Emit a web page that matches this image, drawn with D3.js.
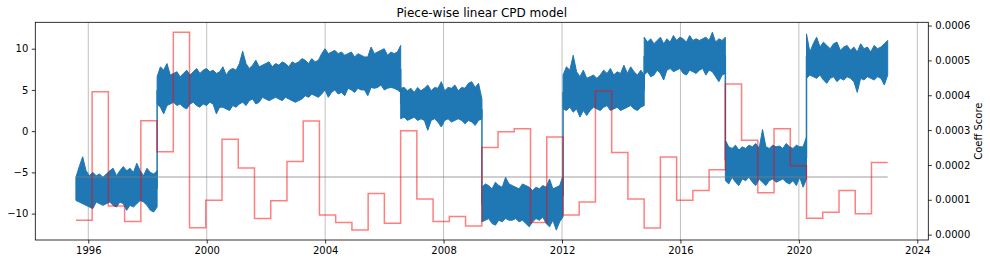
<!DOCTYPE html>
<html>
<head>
<meta charset="utf-8">
<script src="https://cdn.jsdelivr.net/npm/d3@7/dist/d3.min.js"></script>
<style>
body { margin: 0; background: #fff; }
text { font-family: "DejaVu Sans", sans-serif; }
</style>
</head>
<body>
<svg id="chart"></svg>
<script>
// series runs from startDate to endDate
var startDate = "1995-08-01";
var endDate = "2023-01-01";

// change points of the blue series (segment edges)
var changeDates = ["1995-08-01", "1998-04-29", "2006-07-21", "2009-04-18", "2012-01-14",
                   "2014-10-11", "2017-07-08", "2020-04-04", "2023-01-01"];

// upper / lower envelope of the noisy series, one array per segment
var blueUpper = [
    [-5.6,-4.3,-3.1,-4.8,-5.4,-5.0,-5.4,-5.2,-5.6,-5.2,-4.8,-4.5,-5.4,-4.8,-4.3,-4.8,-4.5,-5.0,-3.9,-4.8,-5.4,-4.5,-5.0,-5.2,-4.8],
    [6.6,7.8,7.4,8.2,6.8,7.0,7.2,6.6,7.0,7.4,6.8,7.2,7.6,7.0,7.4,7.6,7.2,7.4,7.0,7.2,
     7.8,6.8,7.4,7.6,7.4,8.2,9.7,8.2,7.6,8.0,8.6,7.8,8.0,8.2,8.4,7.8,8.2,8.0,8.4,8.2,7.8,8.4,8.2,8.4,8.8,8.6,8.2,8.8,8.4,8.6,9.4,10.0,9.4,9.6,9.8,9.4,9.6,9.2,9.4,9.6,9.0,9.4,9.2,9.0,
     9.0,10.2,9.4,9.6,9.8,10.0,9.2,9.6,9.4,9.6,10.4],
    [5.2,5.3,4.9,5.2,4.7,5.3,4.9,5.2,5.6,4.9,5.3,5.2,6.0,4.9,5.3,5.2,5.6,4.9,5.3,5.2,5.8,6.0,5.3,5.8,3.9],
    [-6.8,-6.4,-6.6,-7.0,-6.2,-6.6,-6.8,-5.6,-6.4,-6.6,-6.8,-7.0,-6.4,-6.6,-6.8,-7.2,-6.8,-7.0,-6.6,-6.8,-5.8,-7.0,-6.8,-6.6,-5.4],
    [6.8,7.8,7.4,9.2,7.2,6.6,7.4,6.4,6.6,6.8,6.4,6.8,7.4,7.0,7.6,6.8,7.2,7.0,8.0,7.0,7.8,7.2,6.8,7.4,6.8],
    [11.4,10.8,11.2,10.6,11.0,11.4,10.6,11.2,10.8,11.6,11.0,11.4,11.2,10.8,11.6,11.0,11.2,11.0,11.2,11.4,11.0,12.0,10.8,11.2,11.0,11.4],
    [-1.1,-1.9,-2.1,-1.7,-2.3,-1.9,-2.1,-1.7,-1.9,-1.5,-2.1,0.2,-1.9,-2.1,-1.7,-1.9,-1.8,-2.1,-1.5,-1.9,-2.1,-1.7,-1.9,-1.9,-0.7],
    [11.8,9.6,10.6,11.4,10.2,10.8,10.4,10.0,10.6,10.8,9.8,10.2,10.4,9.8,10.2,9.6,10.6,10.0,10.2,9.6,10.4,10.0,10.2,10.6,11.0]
];
var blueLower = [
    [-8.4,-8.6,-8.8,-9.0,-9.2,-9.4,-8.6,-8.8,-9.0,-8.8,-8.6,-9.0,-9.2,-8.6,-8.8,-9.6,-9.0,-9.2,-8.8,-8.4,-8.6,-9.0,-9.6,-9.8,-9.2],
    [3.3,2.9,2.1,3.1,3.3,3.5,3.1,3.3,2.9,2.7,3.3,3.5,3.1,2.9,3.3,3.1,3.5,3.3,2.1,2.9,
     2.9,2.7,2.5,3.1,2.9,3.3,3.5,3.1,3.7,3.9,3.3,3.5,4.1,3.9,3.7,3.9,4.1,3.9,3.7,4.1,3.9,3.7,3.5,3.7,3.9,4.3,4.1,4.5,4.3,4.1,4.5,5.0,4.1,4.7,5.0,4.5,4.7,4.3,5.2,5.0,4.7,5.2,5.0,5.0,
     4.3,5.3,5.2,5.3,5.6,5.0,5.2,5.3,5.2,5.0,4.7],
    [1.5,1.7,1.3,1.5,1.7,1.3,1.5,1.3,0.1,1.3,1.5,1.1,0.5,1.3,1.5,1.1,1.3,1.5,1.3,0.9,1.3,1.1,0.7,1.3,1.5],
    [-11.0,-10.8,-10.6,-11.2,-11.4,-10.8,-11.0,-10.6,-10.8,-10.8,-10.6,-11.0,-10.8,-11.2,-11.6,-11.0,-10.6,-10.8,-10.4,-11.2,-11.6,-10.8,-12.0,-11.0,-10.4],
    [2.7,2.5,2.9,2.3,2.7,1.7,2.5,1.9,2.5,2.9,2.7,2.5,2.9,3.1,2.5,2.7,2.9,2.5,2.7,2.9,3.1,2.7,2.5,2.9,3.1],
    [6.8,7.2,6.6,6.8,7.4,7.0,6.2,7.4,7.6,7.2,7.4,7.6,7.0,6.8,7.4,7.2,7.0,7.4,7.6,6.8,7.4,7.2,6.6,6.0,6.8,7.0],
    [-6.0,-6.4,-5.6,-6.2,-6.6,-5.8,-6.0,-5.6,-6.2,-6.6,-5.8,-6.2,-6.6,-6.0,-5.8,-6.2,-6.0,-5.8,-6.2,-6.4,-6.0,-6.6,-5.6,-6.8,-5.8],
    [6.4,6.8,6.6,6.4,6.8,6.2,5.8,6.4,6.6,6.0,6.4,6.2,6.6,6.4,6.0,4.7,6.4,6.2,6.6,6.4,6.2,6.6,6.4,5.6,6.8]
];

// coefficient score per window (right axis)
var coeffScore = [0.000041,0.000410,0.000082,0.000038,0.000327,0.000238,0.000581,0.000020,0.000099,0.000274,
                  0.000191,0.000046,0.000097,0.000210,0.000326,0.000056,0.000035,0.000013,0.000118,0.000033,
                  0.000298,0.000102,0.000038,0.000052,0.000025,0.000250,0.000295,0.000304,0.000035,0.000280,
                  0.000056,0.000094,0.000412,0.000236,0.000102,0.000019,0.000223,0.000099,0.000127,0.000186,
                  0.000432,0.000271,0.000120,0.000304,0.000198,0.000047,0.000064,0.000127,0.000060,0.000207];

var baselineValue = -5.56;

var xTickYears = [1996, 2000, 2004, 2008, 2012, 2016, 2020, 2024];
var leftTicks = [-10, -5, 0, 5, 10];
var rightTicks = [0, 0.0001, 0.0002, 0.0003, 0.0004, 0.0005, 0.0006];


function drawChart() {
    var width = 990;
    var height = 264;
    var margin = {top: 22.3, right: 61.7, bottom: 24, left: 35.3};
    var parse = d3.timeParse("%Y-%m-%d");

    var svg = d3.select("#chart")
        .attr("width", width)
        .attr("height", height);

    var t0 = parse(startDate), t1 = parse(endDate);
    var pad = (t1 - t0) * 0.05;
    var x = d3.scaleTime()
        .domain([new Date(+t0 - pad), new Date(+t1 + pad)])
        .range([margin.left, width - margin.right]);

    var allVals = d3.merge(blueUpper).concat(d3.merge(blueLower));
    var lo = d3.min(allVals), hi = d3.max(allVals);
    var yLeft = d3.scaleLinear()
        .domain([lo - (hi - lo) * 0.05, hi + (hi - lo) * 0.05])
        .range([height - margin.bottom, margin.top]);

    var cLo = d3.min(coeffScore), cHi = d3.max(coeffScore);
    var yRight = d3.scaleLinear()
        .domain([cLo - (cHi - cLo) * 0.05, cHi + (cHi - cLo) * 0.05])
        .range([height - margin.bottom, margin.top]);

    svg.append("clipPath").attr("id", "plotclip")
        .append("rect")
        .attr("x", margin.left).attr("y", margin.top)
        .attr("width", width - margin.left - margin.right)
        .attr("height", height - margin.top - margin.bottom);

    var tickDates = xTickYears.map(function (y) { return new Date(y, 0, 1); });

    // vertical grid
    svg.append("g")
        .selectAll("line")
        .data(tickDates)
        .enter().append("line")
        .attr("x1", function (d) { return x(d); })
        .attr("x2", function (d) { return x(d); })
        .attr("y1", margin.top)
        .attr("y2", height - margin.bottom)
        .attr("stroke", "#b0b0b0")
        .attr("stroke-width", 0.8);

    var plot = svg.append("g").attr("clip-path", "url(#plotclip)");

    // noisy series: one band per segment
    var segs = blueUpper.map(function (up, s) {
        var a = parse(changeDates[s]), b = parse(changeDates[s + 1]);
        var n = up.length;
        return up.map(function (v, i) {
            return {t: new Date(+a + (b - a) * i / (n - 1)), hi: v, lo: blueLower[s][i]};
        });
    });

    var band = d3.area()
        .x(function (d) { return x(d.t); })
        .y0(function (d) { return yLeft(d.lo); })
        .y1(function (d) { return yLeft(d.hi); });

    plot.selectAll(".seg")
        .data(segs)
        .enter().append("path")
        .attr("class", "seg")
        .attr("d", band)
        .attr("fill", "#1f77b4")
        .attr("stroke", "#1f77b4")
        .attr("stroke-width", 1)
        .attr("stroke-linejoin", "round");

    // jumps between segments
    var jumps = [];
    for (var s = 0; s < segs.length - 1; s++) {
        var p = segs[s][segs[s].length - 1], q = segs[s + 1][0];
        jumps.push([{t: p.t, v: (p.hi + p.lo) / 2}, {t: q.t, v: (q.hi + q.lo) / 2}]);
    }
    var jumpLine = d3.line()
        .x(function (d) { return x(d.t); })
        .y(function (d) { return yLeft(d.v); });
    plot.selectAll(".jump")
        .data(jumps)
        .enter().append("path")
        .attr("class", "jump")
        .attr("d", jumpLine)
        .attr("fill", "none")
        .attr("stroke", "#1f77b4")
        .attr("stroke-width", 1.5);

    // grey baseline
    plot.append("line")
        .attr("x1", x(t0)).attr("x2", x(t1))
        .attr("y1", yLeft(baselineValue)).attr("y2", yLeft(baselineValue))
        .attr("stroke", "grey")
        .attr("stroke-opacity", 0.5)
        .attr("stroke-width", 1.5);

    // coeff score steps
    var n = coeffScore.length;
    var stepPts = coeffScore.map(function (v, i) {
        return {t: new Date(+t0 + (t1 - t0) * i / n), v: v};
    });
    stepPts.push({t: t1, v: coeffScore[n - 1]});
    var stepLine = d3.line()
        .curve(d3.curveStepAfter)
        .x(function (d) { return x(d.t); })
        .y(function (d) { return yRight(d.v); });
    plot.append("path")
        .datum(stepPts)
        .attr("d", stepLine)
        .attr("fill", "none")
        .attr("stroke", "red")
        .attr("stroke-opacity", 0.5)
        .attr("stroke-width", 1.5);

    // frame
    svg.append("rect")
        .attr("x", margin.left).attr("y", margin.top)
        .attr("width", width - margin.left - margin.right)
        .attr("height", height - margin.top - margin.bottom)
        .attr("fill", "none")
        .attr("stroke", "#000")
        .attr("stroke-width", 0.8);

    var xAxis = svg.append("g")
        .attr("transform", "translate(0," + (height - margin.bottom) + ")")
        .call(d3.axisBottom(x).tickValues(tickDates).tickFormat(d3.timeFormat("%Y"))
            .tickSize(3.5).tickPadding(3.5).tickSizeOuter(0));

    var lAxis = svg.append("g")
        .attr("transform", "translate(" + margin.left + ",0)")
        .call(d3.axisLeft(yLeft).tickValues(leftTicks).tickFormat(d3.format("d"))
            .tickSize(3.5).tickPadding(3.5).tickSizeOuter(0));

    var rAxis = svg.append("g")
        .attr("transform", "translate(" + (width - margin.right) + ",0)")
        .call(d3.axisRight(yRight).tickValues(rightTicks).tickFormat(d3.format(".4f"))
            .tickSize(3.5).tickPadding(3.5).tickSizeOuter(0));

    [xAxis, lAxis, rAxis].forEach(function (g) {
        g.select(".domain").remove();
        g.selectAll("line").attr("stroke", "#000").attr("stroke-width", 0.8);
        g.selectAll("text")
            .style("font-size", "10px")
            .attr("font-family", "DejaVu Sans")
            .attr("fill", "#000");
    });
    lAxis.selectAll("text").text(function (d) { return d < 0 ? "\u2212" + Math.abs(d) : d; });

    svg.append("text")
        .attr("transform", "translate(981.5," + ((margin.top + height - margin.bottom) / 2) + ")rotate(-90)")
        .attr("text-anchor", "middle")
        .style("font-size", "10px")
        .text("Coeff Score");

    svg.append("text")
        .attr("x", (margin.left + width - margin.right) / 2)
        .attr("y", 17)
        .attr("text-anchor", "middle")
        .style("font-size", "12px")
        .text("Piece-wise linear CPD model");
}

drawChart();
</script>
</body>
</html>
